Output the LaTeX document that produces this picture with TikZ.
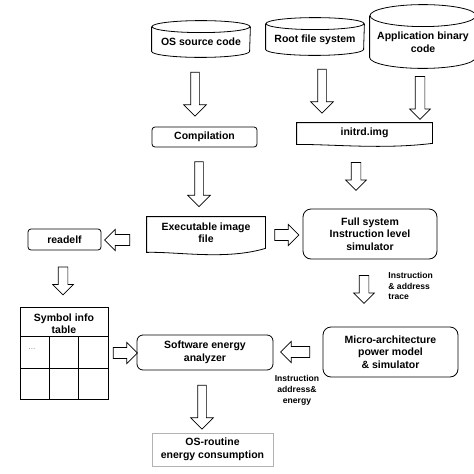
\documentclass[tikz,border=0pt]{standalone}
\usepackage{fontspec}
\setmainfont{Liberation Sans}
\usetikzlibrary{shapes.arrows}

\newcommand{\boxfont}{\fontsize{10.5}{12.5}\selectfont\bfseries}
\newcommand{\notefont}{\fontsize{8.6}{10.8}\selectfont\bfseries}

\begin{document}
\begin{tikzpicture}[x=1pt,y=-1pt,line width=0.8pt,
	box/.style={draw, rounded corners=3pt, align=center, font=\boxfont, inner sep=0pt},
	doc/.style={align=center, font=\boxfont, inner sep=0pt},
	note/.style={align=left, font=\notefont, inner sep=0pt},
	fat/.style={draw, single arrow, inner xsep=0pt, inner ysep=4pt, line width=0.7pt, single arrow head extend=7pt},
	thin arrow/.style={fat, inner ysep=4.5pt, single arrow head extend=5.5pt},
	side arrow/.style={fat, inner ysep=5.2pt, single arrow head extend=5pt},
	down/.style={rotate=-90},
	back/.style={rotate=180}]

	\useasboundingbox (0,0) rectangle (474,474);

	% sources (cans)
	\node[doc, minimum width=98pt, minimum height=30pt] (os) at (201,42) {OS source code};
	\draw (os.north) ellipse [x radius=49pt, y radius=6pt];
	\draw (os.north west) -- ([yshift=6pt]os.south west) arc [start angle=180, end angle=360, x radius=49pt, y radius=6pt] -- (os.north east);
	\node[doc, minimum width=98pt, minimum height=31pt] (rfs) at (315,39.5) {Root file system};
	\draw (rfs.north) ellipse [x radius=49pt, y radius=6pt];
	\draw (rfs.north west) -- ([yshift=6pt]rfs.south west) arc [start angle=180, end angle=360, x radius=49pt, y radius=6pt] -- (rfs.north east);
	\node[doc, minimum width=106pt, minimum height=52pt] (app) at (423,42) {Application binary\\code};
	\draw (app.north) ellipse [x radius=53pt, y radius=11pt];
	\draw (app.north west) -- ([yshift=11pt]app.south west) arc [start angle=180, end angle=360, x radius=53pt, y radius=11pt] -- (app.north east);

	\node[box, minimum width=105pt, minimum height=20pt] (comp) at (204.5,137) {Compilation};
	\node[doc, minimum width=135pt, minimum height=20pt] (initrd) at (364.5,133) {initrd.img};
	\draw (initrd.north west) -- (initrd.north east) -- (initrd.south east) .. controls ([xshift=-50pt,yshift=-6pt]initrd.south east) and ([xshift=40pt,yshift=-1pt]initrd.south west) .. ([yshift=-1pt]initrd.south west) -- cycle;

	\node[doc, minimum width=118pt, minimum height=31pt] (exec) at (206,232.5) {Executable image\\file};
	\draw (exec.north west) -- (exec.north east) -- (exec.south east) .. controls ([xshift=-40pt,yshift=-12pt]exec.south east) and ([xshift=30pt,yshift=-3pt]exec.south west) .. ([yshift=-4pt]exec.south west) -- cycle;
	\node[box, rounded corners=8pt, minimum width=134pt, minimum height=50pt] (full) at (370,234) {Full system\\Instruction level\\simulator};
	\node[box, minimum width=73pt, minimum height=21pt] (readelf) at (64.5,239.5) {readelf};

	% symbol table
	\node[draw, minimum width=88pt, minimum height=92pt, inner sep=0pt] (tbl) at (64,353) {};
	\node[doc] (tblhead) at (64,323.5) {Symbol info\\table};
	\draw (20,336) -- (108,336);
	\draw (20,368) -- (108,368);
	\draw (49,336) -- (49,399);
	\draw (78,336) -- (78,399);
	\node[font=\fontsize{8}{8}\selectfont, text=gray, inner sep=0pt] (dots) at (32,349) {...};

	\node[box, rounded corners=6pt, minimum width=136pt, minimum height=35pt] (sea) at (205,352.5) {Software energy\\analyzer};
	\node[box, rounded corners=8pt, minimum width=135pt, minimum height=50pt] (micro) at (390.5,352) {Micro-architecture\\power model\\\& simulator};
	\node[doc, draw=gray!60, minimum width=121pt, minimum height=33pt] (osr) at (212.5,449.5) {OS-routine\\energy consumption};

	% block arrows
	\path (os.south) -- (os.south |- comp.north) node[xshift=-6pt, fat, down, midway, minimum height=44pt] (a1) {};
	\path (rfs.south) -- (rfs.south |- initrd.north) node[xshift=7pt, fat, down, midway, minimum height=44pt] (a2) {};
	\path (app.south) -- (app.south |- initrd.north) node[xshift=-3pt, thin arrow, down, midway, minimum height=43pt] (a3) {};
	\path (comp.south) -- (comp.south |- exec.north) node[xshift=-5.5pt, fat, down, midway, minimum height=45pt] (a4) {};
	\path (initrd.south) -- (initrd.south |- full.north) node[xshift=-8.5pt, yshift=2pt, thin arrow, down, midway, minimum height=28pt] (a5) {};
	\path (exec.west) -- (exec.west -| readelf.east) node[xshift=-4pt, yshift=-7.5pt, side arrow, back, midway, minimum height=25pt] (a6) {};
	\path (exec.east) -- (exec.east -| full.west) node[yshift=-2.5pt, side arrow, midway, minimum height=24pt] (a7) {};
	\path (readelf.south) -- (readelf.south |- tbl.north) node[xshift=-1.5pt, thin arrow, down, midway, minimum height=28pt] (a8) {};
	\path (full.south) -- (full.south |- micro.north) node[xshift=-6pt, yshift=6pt, thin arrow, down, midway, minimum height=28pt] (a9) {};
	\path (tbl.east) -- (tbl.east -| sea.west) node[side arrow, midway, minimum height=24pt] (a10) {};
	\path (micro.west) -- (micro.west -| sea.east) node[side arrow, back, midway, minimum height=29pt] (a11) {};
	\path (sea.south) -- (sea.south |- osr.north) node[xshift=-3pt, yshift=-3.5pt, fat, down, midway, minimum height=44pt] (a12) {};

	% arrow notes
	\node[note, anchor=west] (trace) at (388,286) {Instruction\\\& address\\trace};
	\node[note, align=center] (energy) at (297,390) {Instruction\\address\&\\energy};

\end{tikzpicture}
\end{document}
